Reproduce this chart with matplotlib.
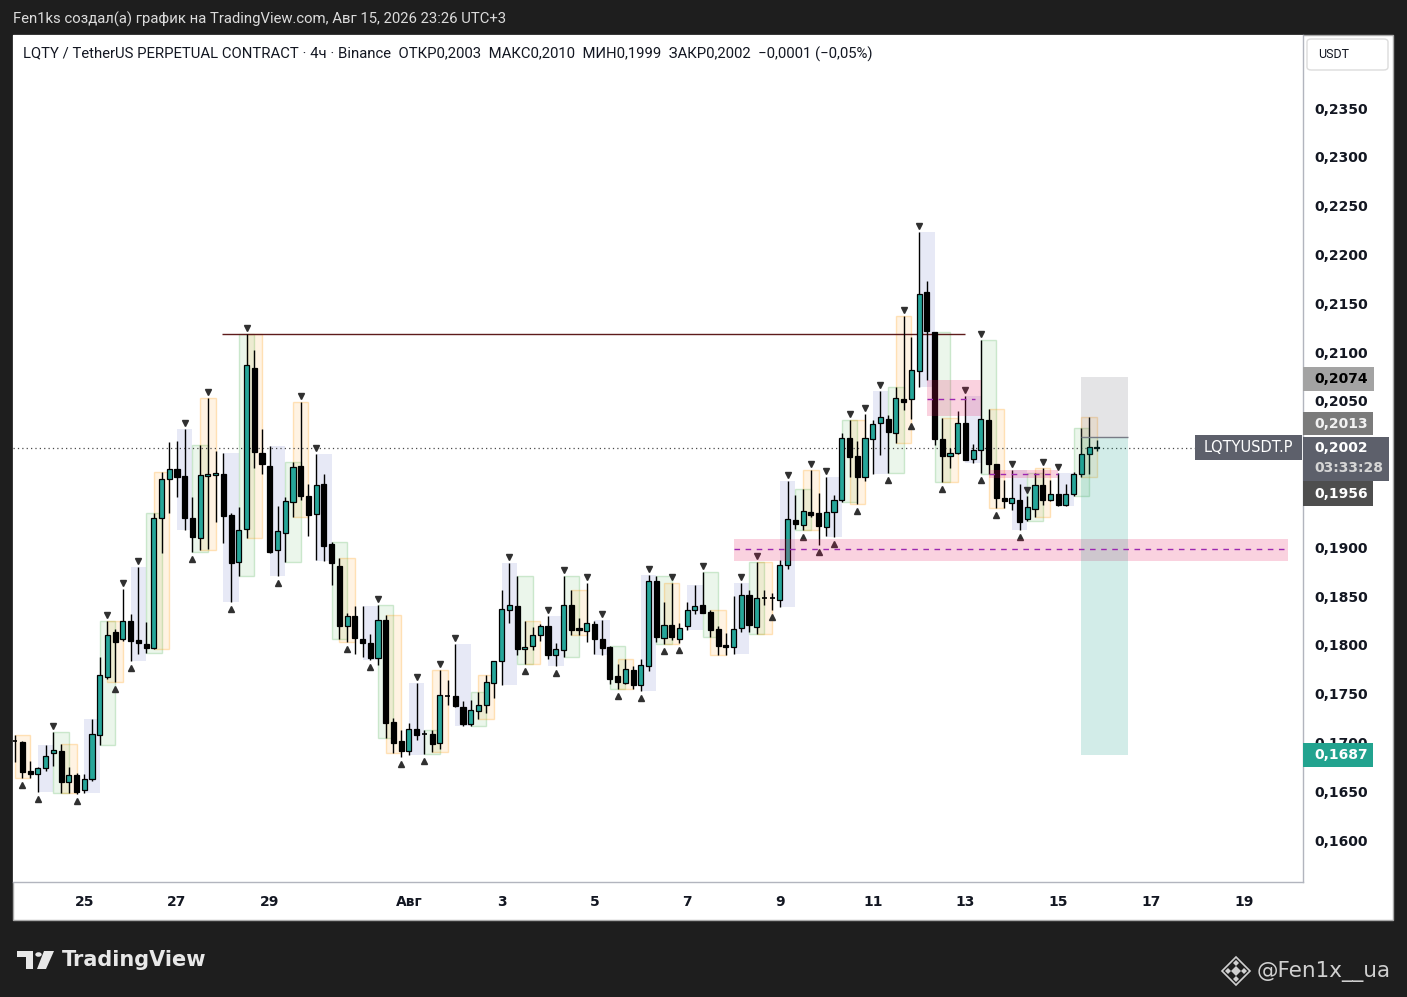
import matplotlib
matplotlib.use("Agg")
import matplotlib.pyplot as plt
from matplotlib.patches import Rectangle, FancyBboxPatch, Polygon, Circle
from matplotlib.transforms import offset_copy, blended_transform_factory

plt.rcParams['font.family'] = ['DejaVu Sans']

# ---------------- data (4h candles, LQTYUSDT.P) ----------------
open_ = [0.1701, 0.1700, 0.1671, 0.1668, 0.1674, 0.1689, 0.1691, 0.1659, 0.1667, 0.1651,
         0.1662, 0.1708, 0.1767, 0.1813, 0.1806, 0.1824, 0.1805, 0.1801, 0.1797, 0.1930,
         0.1970, 0.1980, 0.1973, 0.1930, 0.1909, 0.1973, 0.1974, 0.1975, 0.1933, 0.1885,
         0.1919, 0.2084, 0.1997, 0.1983, 0.1897, 0.1915, 0.1946, 0.1983, 0.1952, 0.1934,
         0.1965, 0.1903, 0.1881, 0.1819, 0.1830, 0.1806, 0.1802, 0.1786, 0.1825, 0.1721,
         0.1701, 0.1691, 0.1714, 0.1709, 0.1709, 0.1699, 0.1748, 0.1748, 0.1736, 0.1719,
         0.1732, 0.1738, 0.1761, 0.1783, 0.1836, 0.1840, 0.1796, 0.1799, 0.1810, 0.1819,
         0.1790, 0.1795, 0.1841, 0.1817, 0.1814, 0.1821, 0.1806, 0.1798, 0.1768, 0.1761,
         0.1774, 0.1759, 0.1778, 0.1865, 0.1807, 0.1820, 0.1806, 0.1819, 0.1836, 0.1841,
         0.1834, 0.1816, 0.1800, 0.1798, 0.1817, 0.1851, 0.1818, 0.1848, 0.1848, 0.1846,
         0.1882, 0.1928, 0.1923, 0.1936, 0.1935, 0.1921, 0.1936, 0.1948, 0.2012, 0.1993,
         0.1972, 0.2011, 0.2027, 0.2031, 0.2017, 0.2052, 0.2052, 0.2081, 0.2161, 0.2120,
         0.2011, 0.1993, 0.1997, 0.2027, 0.1990, 0.2000, 0.2030, 0.1985, 0.1950, 0.1945,
         0.1948, 0.1929, 0.1939, 0.1964, 0.1948, 0.1954, 0.1943, 0.1955, 0.1975, 0.1996,
         0.2003]
high = [0.1708, 0.1701, 0.1681, 0.1675, 0.1697, 0.1711, 0.1698, 0.1675, 0.1669, 0.1668,
        0.1724, 0.1788, 0.1824, 0.1816, 0.1857, 0.1832, 0.1880, 0.1823, 0.1935, 0.1977,
        0.2008, 0.2009, 0.2021, 0.1951, 0.2005, 0.2053, 0.1999, 0.1997, 0.1935, 0.1941,
        0.2118, 0.2102, 0.2021, 0.2004, 0.1942, 0.1951, 0.1987, 0.2049, 0.1965, 0.1995,
        0.1975, 0.1905, 0.1889, 0.1833, 0.1840, 0.1840, 0.1811, 0.1841, 0.1831, 0.1725,
        0.1713, 0.1720, 0.1761, 0.1713, 0.1713, 0.1774, 0.1764, 0.1801, 0.1742, 0.1743,
        0.1752, 0.1769, 0.1783, 0.1856, 0.1884, 0.1870, 0.1824, 0.1818, 0.1821, 0.1830,
        0.1802, 0.1870, 0.1856, 0.1827, 0.1863, 0.1824, 0.1825, 0.1799, 0.1780, 0.1785,
        0.1778, 0.1785, 0.1872, 0.1870, 0.1844, 0.1863, 0.1822, 0.1844, 0.1861, 0.1875,
        0.1836, 0.1819, 0.1812, 0.1850, 0.1863, 0.1856, 0.1885, 0.1856, 0.1853, 0.1887,
        0.1968, 0.1953, 0.1960, 0.1979, 0.1956, 0.1972, 0.1953, 0.2017, 0.2030, 0.2009,
        0.2036, 0.2030, 0.2060, 0.2035, 0.2064, 0.2137, 0.2115, 0.2223, 0.2173, 0.2120,
        0.2032, 0.2002, 0.2040, 0.2055, 0.2006, 0.2112, 0.2042, 0.1985, 0.1969, 0.1979,
        0.1965, 0.1952, 0.1976, 0.1981, 0.1969, 0.1976, 0.1965, 0.1977, 0.2022, 0.2033,
        0.2010]
low = [0.1680, 0.1664, 0.1664, 0.1649, 0.1671, 0.1676, 0.1648, 0.1648, 0.1647, 0.1648,
       0.1660, 0.1697, 0.1765, 0.1762, 0.1804, 0.1783, 0.1791, 0.1792, 0.1796, 0.1894,
       0.1935, 0.1951, 0.1918, 0.1895, 0.1897, 0.1898, 0.1926, 0.1904, 0.1844, 0.1870,
       0.1909, 0.1981, 0.1975, 0.1894, 0.1870, 0.1885, 0.1931, 0.1948, 0.1911, 0.1887,
       0.1886, 0.1861, 0.1806, 0.1803, 0.1791, 0.1787, 0.1784, 0.1779, 0.1704, 0.1689,
       0.1685, 0.1687, 0.1702, 0.1688, 0.1690, 0.1693, 0.1738, 0.1736, 0.1717, 0.1717,
       0.1724, 0.1730, 0.1745, 0.1759, 0.1822, 0.1790, 0.1780, 0.1795, 0.1804, 0.1785,
       0.1778, 0.1787, 0.1810, 0.1810, 0.1803, 0.1791, 0.1790, 0.1760, 0.1755, 0.1760,
       0.1755, 0.1753, 0.1773, 0.1803, 0.1801, 0.1805, 0.1802, 0.1815, 0.1832, 0.1833,
       0.1808, 0.1790, 0.1790, 0.1791, 0.1813, 0.1813, 0.1811, 0.1841, 0.1836, 0.1839,
       0.1878, 0.1919, 0.1918, 0.1931, 0.1902, 0.1911, 0.1910, 0.1946, 0.1972, 0.1944,
       0.1968, 0.1975, 0.1994, 0.1976, 0.2007, 0.2041, 0.2031, 0.2064, 0.2071, 0.2005,
       0.1967, 0.1981, 0.1995, 0.1989, 0.1986, 0.1976, 0.1975, 0.1940, 0.1940, 0.1938,
       0.1918, 0.1927, 0.1931, 0.1943, 0.1947, 0.1942, 0.1942, 0.1952, 0.1972, 0.1975,
       0.1999]
close = [0.1701, 0.1670, 0.1668, 0.1674, 0.1686, 0.1692, 0.1659, 0.1667, 0.1649, 0.1662,
         0.1709, 0.1769, 0.1810, 0.1803, 0.1824, 0.1804, 0.1802, 0.1797, 0.1930, 0.1970,
         0.1980, 0.1972, 0.1930, 0.1910, 0.1974, 0.1975, 0.1976, 0.1932, 0.1884, 0.1918,
         0.2087, 0.1998, 0.1985, 0.1895, 0.1917, 0.1947, 0.1982, 0.1952, 0.1933, 0.1964,
         0.1901, 0.1884, 0.1819, 0.1830, 0.1807, 0.1802, 0.1786, 0.1825, 0.1720, 0.1699,
         0.1691, 0.1714, 0.1708, 0.1709, 0.1698, 0.1749, 0.1748, 0.1737, 0.1719, 0.1733,
         0.1738, 0.1762, 0.1783, 0.1837, 0.1841, 0.1796, 0.1798, 0.1810, 0.1819, 0.1790,
         0.1796, 0.1841, 0.1815, 0.1815, 0.1822, 0.1806, 0.1797, 0.1765, 0.1762, 0.1775,
         0.1759, 0.1779, 0.1865, 0.1808, 0.1820, 0.1808, 0.1817, 0.1836, 0.1840, 0.1833,
         0.1815, 0.1799, 0.1798, 0.1816, 0.1851, 0.1820, 0.1848, 0.1848, 0.1848, 0.1882,
         0.1929, 0.1924, 0.1937, 0.1933, 0.1922, 0.1936, 0.1948, 0.2012, 0.1992, 0.1972,
         0.2012, 0.2026, 0.2033, 0.2018, 0.2053, 0.2049, 0.2082, 0.2159, 0.2122, 0.2011,
         0.1993, 0.1997, 0.2027, 0.1989, 0.2000, 0.2031, 0.1985, 0.1950, 0.1947, 0.1950,
         0.1926, 0.1941, 0.1964, 0.1948, 0.1954, 0.1943, 0.1955, 0.1975, 0.1995, 0.2003,
         0.2002]

fractal_high_idx = [5, 12, 14, 16, 22, 25, 30, 37, 39, 47, 52, 55, 57, 64, 69, 71, 74, 76,
                    82, 85, 89, 94, 96, 100, 103, 105, 108, 110, 112, 115, 117, 123, 125,
                    129, 131, 133, 135]
fractal_low_idx = [1, 3, 8, 13, 15, 23, 28, 34, 43, 46, 50, 53, 66, 70, 78, 81, 84, 86, 98,
                   102, 104, 106, 109, 113, 116, 120, 125, 127, 130]

date_tick_idx = [9, 21, 33, 51, 63, 75, 87, 99, 111, 123, 135, 147, 159]
date_tick_lbl = ['25', '27', '29', 'Авг', '3', '5', '7', '9', '11', '13', '15', '17', '19']
price_ticks = [0.1600, 0.1650, 0.1700, 0.1750, 0.1800, 0.1850, 0.1900, 0.1950,
               0.2000, 0.2050, 0.2100, 0.2150, 0.2200, 0.2250, 0.2300, 0.2350]
hidden_ticks = [0.1950, 0.2000]   # covered by the price-scale badges

resistance_level = 0.2118
resistance_from, resistance_to = 26.8, 123.0

zone_start = [93.0, 118.0, 126.0]
zone_end = [164.7, 125.0, 135.0]
zone_top = [0.1908, 0.2071, 0.1979]
zone_bottom = [0.1886, 0.2034, 0.1971]
zone_mid = [0.1898, 0.2052, 0.1975]
zone_mid_end = [164.7, 124.3, 135.0]

pos_from, pos_to = 138.0, 144.0
pos_stop, pos_entry, pos_target = 0.2074, 0.2013, 0.1687

last_price = 0.2002
countdown = '03:33:28'
stop_lbl, entry_lbl, low_lbl, target_lbl = 0.2074, 0.2013, 0.1956, 0.1687

# ---------------- figure / layout ----------------
W, H = 1407, 997
fig = plt.figure(figsize=(W / 100, H / 100), dpi=100)
fig.patch.set_facecolor('#1e1e1e')

def fx(px):
    return px / W

def fy(py):
    return 1 - py / H

# white chart panel
fig.add_artist(Rectangle((fx(13), fy(920)), fx(1393) - fx(13), fy(35) - fy(920),
                         transform=fig.transFigure, facecolor='white',
                         edgecolor='#a9a9a9', lw=1, zorder=-5))

ax = fig.add_axes([fx(13), fy(882), fx(1303) - fx(13), fy(35) - fy(882)])
ax.set_facecolor('white')
YMIN, YMAX = 0.155697, 0.242480
ax.set_xlim(-0.22, 166.67)
ax.set_ylim(YMIN, YMAX)
ppx = (YMAX - YMIN) / 847.0

for s in ['top', 'left']:
    ax.spines[s].set_visible(False)
for s in ['right', 'bottom']:
    ax.spines[s].set_color('#b2b5be')
    ax.spines[s].set_linewidth(1)

fmt = lambda v: f"{v:.4f}".replace('.', ',')

ax.yaxis.tick_right()
ax.set_yticks(price_ticks)
ax.set_yticklabels(['' if any(abs(v - h) < 1e-9 for h in hidden_ticks) else fmt(v)
                    for v in price_ticks])
ax.tick_params(axis='y', length=0, pad=8, labelsize=10, labelcolor='#131722')
ax.set_xticks(date_tick_idx)
ax.set_xticklabels(date_tick_lbl)
ax.tick_params(axis='x', length=0, pad=9, labelsize=10, labelcolor='#131722')
for lbl in ax.get_yticklabels() + ax.get_xticklabels():
    lbl.set_fontweight('bold')

n = len(open_)
idx = list(range(n))

# ---------------- session boxes ----------------
sess_styles = [(0, (63/255, 81/255, 181/255, 0.12), (63/255, 81/255, 181/255, 0.0)),
               (2, (76/255, 175/255, 80/255, 0.11), (76/255, 175/255, 80/255, 0.25)),
               (3, (255/255, 152/255, 0/255, 0.11), (255/255, 152/255, 0/255, 0.25))]
for d in range(-3, n, 6):
    for off, fc, ec in sess_styles:
        i0 = d + off
        if i0 < 0 or i0 + 1 >= n:
            continue
        top = max(high[i0], high[i0 + 1])
        bot = min(low[i0], low[i0 + 1])
        ax.add_patch(Rectangle((i0, bot), 2, top - bot, facecolor=fc, edgecolor=ec,
                               lw=1, zorder=1))

# last price dotted line
ax.axhline(last_price, color='#4a4a4a', lw=0.9, ls=(0, (1, 2.5)), zorder=2)

# resistance line
ax.hlines(resistance_level, resistance_from, resistance_to, colors='#5e1b1b', lw=1, zorder=2.6)

# ---------------- candles ----------------
ax.vlines(idx, low, high, colors='black', lw=1.0, zorder=3)
bw = 0.66
for i in idx:
    o, c = open_[i], close[i]
    if abs(c - o) < 1e-6:
        ax.hlines(o, i - bw / 2, i + bw / 2, colors='black', lw=1.2, zorder=4)
        continue
    col = '#26a69a' if c > o else '#000000'
    ax.add_patch(Rectangle((i - bw / 2, min(o, c)), bw, abs(c - o), facecolor=col,
                           edgecolor='black', lw=0.9, zorder=4))

# fractal markers
tr_up = offset_copy(ax.transData, fig=fig, x=0, y=6, units='dots')
tr_dn = offset_copy(ax.transData, fig=fig, x=0, y=-7, units='dots')
ax.plot(fractal_high_idx, [high[i] for i in fractal_high_idx], 'v', ms=4.5,
        color='#303030', transform=tr_up, zorder=5, clip_on=False)
ax.plot(fractal_low_idx, [low[i] for i in fractal_low_idx], '^', ms=4.5,
        color='#303030', transform=tr_dn, zorder=5, clip_on=False)

# ---------------- drawings ----------------
for s, e, t, b, m, me in zip(zone_start, zone_end, zone_top, zone_bottom, zone_mid, zone_mid_end):
    ax.add_patch(Rectangle((s, b), e - s, t - b, facecolor=(233/255, 30/255, 99/255, 0.2),
                           edgecolor='none', zorder=6))
    ax.hlines(m, s, me, colors='#9c27b0', lw=1, linestyles=(0, (4, 4)), zorder=7)

ax.add_patch(Rectangle((pos_from, pos_entry), pos_to - pos_from, pos_stop - pos_entry,
                       facecolor=(120/255, 123/255, 134/255, 0.2), edgecolor='none', zorder=6))
ax.add_patch(Rectangle((pos_from, pos_target), pos_to - pos_from, pos_entry - pos_target,
                       facecolor=(8/255, 153/255, 129/255, 0.18), edgecolor='none', zorder=6))
ax.hlines(pos_entry, pos_from, pos_to, colors='#787b86', lw=1, zorder=7)

# ---------------- price scale labels ----------------
bt = blended_transform_factory(ax.transAxes, ax.transData)

def afx(px):
    return (px - 13) / 1290.0

def scale_label(val, text, bg, fg, x1=1373, shift=0, h=24):
    c = val + shift * ppx
    ax.add_patch(Rectangle((afx(1303), c - h / 2 * ppx), afx(x1) - afx(1303), h * ppx,
                           transform=bt, facecolor=bg, edgecolor='none', clip_on=False, zorder=20))
    ax.text(afx(1314), c, text, transform=bt, ha='left', va='center', fontsize=10,
            fontweight='bold', color=fg, clip_on=False, zorder=21)

scale_label(stop_lbl, fmt(stop_lbl), '#a3a3a3', '#000000', x1=1374, shift=-2)
scale_label(entry_lbl, fmt(entry_lbl), '#7b7b7b', '#f2f2f2', shift=13, h=23)
scale_label(low_lbl, fmt(low_lbl), '#4e4e4e', '#ffffff', shift=-1, h=25)
scale_label(target_lbl, fmt(target_lbl), '#22a38f', '#ffffff')

# last price (two-line) label
c = last_price
ax.add_patch(Rectangle((afx(1303), c - 33 * ppx), afx(1389) - afx(1303), 43.5 * ppx,
                       transform=bt, facecolor='#5d606b', edgecolor='none', clip_on=False, zorder=20))
ax.text(afx(1314), c, fmt(last_price), transform=bt, ha='left', va='center', fontsize=10,
        fontweight='bold', color='#ffffff', clip_on=False, zorder=21)
ax.text(afx(1314), c - 20 * ppx, countdown, transform=bt, ha='left', va='center', fontsize=10,
        fontweight='bold', color='#d6d6d6', clip_on=False, zorder=21)
ax.add_patch(Rectangle((afx(1195), c - 12 * ppx), afx(1302) - afx(1195), 24.5 * ppx,
                       transform=bt, facecolor='#5d606b', edgecolor='none', clip_on=False, zorder=20))
ax.text((afx(1195) + afx(1302)) / 2, c + 0.3 * ppx, 'LQTYUSDT.P', transform=bt, ha='center',
        va='center', fontsize=10.5, color='#ffffff', clip_on=False, zorder=21)

# USDT box
fig.add_artist(FancyBboxPatch((fx(1307), fy(70)), fx(1388) - fx(1307), fy(39) - fy(70),
                              boxstyle='round,pad=0,rounding_size=0.003',
                              transform=fig.transFigure, facecolor='white',
                              edgecolor='#dcdcdc', lw=1, zorder=30))
fig.text(fx(1318), fy(54), 'USDT', fontsize=9, color='#131722', va='center', ha='left',
         family=['Roboto', 'DejaVu Sans'], zorder=31)

# ---------------- header texts ----------------
fig.text(fx(13), fy(19), 'Fen1ks создал(а) график на TradingView.com, Авг 15, 2026 23:26 UTC+3',
         fontsize=10.75, color='#dcdcdc', va='center', ha='left', family=['Roboto', 'DejaVu Sans'])
fig.text(fx(23), fy(54),
         'LQTY / TetherUS PERPETUAL CONTRACT · 4ч · Binance  ОТКР0,2003  МАКС0,2010  '
         'МИН0,1999  ЗАКР0,2002  −0,0001 (−0,05%)',
         fontsize=10.7, color='#131722', va='center', ha='left', family=['Roboto', 'DejaVu Sans'])

# ---------------- bottom watermark ----------------
def fpoly(pts, **kw):
    fig.add_artist(Polygon([(fx(x), fy(y)) for x, y in pts], closed=True,
                           transform=fig.transFigure, **kw))

logo_col = '#e8e8e8'
fpoly([(17, 951), (33, 951), (33, 969), (26, 969), (26, 957), (17, 957)], facecolor=logo_col,
      edgecolor='none')
fig.add_artist(Circle((fx(38.5), fy(954.5)), 3.2 / W, transform=fig.transFigure,
                      facecolor=logo_col, edgecolor='none'))
fpoly([(44, 951), (54, 951), (46, 969), (37, 969)], facecolor=logo_col, edgecolor='none')
fig.text(fx(62), fy(960), 'TradingView', fontsize=15, fontweight='bold', color=logo_col,
         va='center', ha='left')

# binance-like icon
icx, icy = 1236, 971
for dx, dy, s in [(0, 0, 5), (-8, 0, 3), (8, 0, 3), (0, -8, 3), (0, 8, 3)]:
    x0, y0 = icx + dx, icy + dy
    fpoly([(x0, y0 - s), (x0 + s, y0), (x0, y0 + s), (x0 - s, y0)], facecolor='#d0d0d0',
          edgecolor='none')
fpoly([(icx, icy - 14), (icx + 14, icy), (icx, icy + 14), (icx - 14, icy)], facecolor='none',
      edgecolor='#d0d0d0', lw=1.2)
fig.text(fx(1257), fy(971), '@Fen1x__ua', fontsize=15.5, color='#d0d0d0', va='center',
         ha='left', family=['DejaVu Sans'])

fig.savefig('out.png', dpi=100, facecolor=fig.get_facecolor())
